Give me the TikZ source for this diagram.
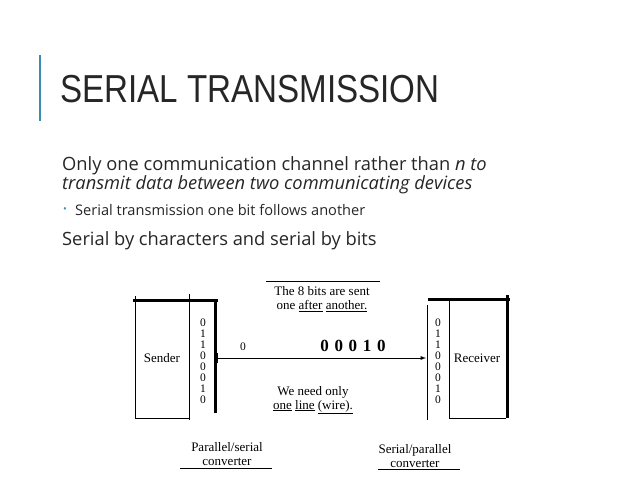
\documentclass[tikz,border=0pt]{standalone}
\usepackage{fontspec}
\setmainfont{Open Sans}
\newfontfamily\titlefont{Liberation Sans}
\newfontfamily\serif{Liberation Serif}
\definecolor{txt}{HTML}{262626}
\definecolor{bar}{HTML}{3C8DB4}
\begin{document}
\begin{tikzpicture}[x=1pt,y=-1pt,
  thin/.style={line width=0.9pt},
  thick/.style={line width=3pt},
  lbl/.style={font=\serif\fontsize{13}{14}\selectfont,inner sep=0pt,align=center},
  bits/.style={font=\serif\fontsize{11.5}{11}\selectfont,inner sep=0pt,align=center}]
\useasboundingbox[fill=white] (0,0) rectangle (638,478);
\fill[bar] (39,55) rectangle (41,121);
\node[anchor=west,inner sep=0pt,text=txt,font=\titlefont\fontsize{39}{40}\selectfont,xscale=0.85] (title) at (60,89) {SERIAL TRANSMISSION};
\node[anchor=north west,inner sep=0pt,text=txt,align=left,font=\fontsize{18.3}{19}\selectfont] (p1) at (62,156) {Only one communication channel rather than \textit{n to}\\\textit{transmit data between two communicating devices}};
\node[anchor=west,inner sep=0pt,text=bar,font=\fontsize{10}{10}\selectfont] (b1) at (63,210) {\textbullet};
\node[anchor=west,inner sep=0pt,text=txt,font=\fontsize{14.6}{15}\selectfont] (p2) at (75,210) {Serial transmission one bit follows another};
\node[anchor=west,inner sep=0pt,text=txt,font=\fontsize{18.3}{19}\selectfont] (p3) at (62,241) {Serial by characters and serial by bits};
% sender
\draw[thin] (135,296) -- (135,418) -- (189,418);
\draw[thin] (189,294) -- (189,420);
\draw[thick] (133,301) -- (218,301);
\draw[thick] (215,301) -- (215,413);
\node[bits] (sb) at (203,361) {0\\1\\1\\0\\0\\0\\1\\0};
\node[lbl] (sender) at (162,358) {Sender};
% receiver
\draw[thin] (427,305) -- (427,420);
\draw[thin] (449,300) -- (449,418) -- (506,418);
\draw[thick] (428,300) -- (510,300);
\draw[thick] (507,295) -- (507,418);
\node[bits] (rb) at (438,361) {0\\1\\1\\0\\0\\0\\1\\0};
\node[lbl] (receiver) at (477,358) {Receiver};
% line
\coordinate (s) at (217,358);
\coordinate (e) at (426,358);
\draw[line width=2.5pt] (217,353) -- (217,363);
\draw[thin,-latex] (s) -- (e);
\node[bits] (z) at (243,347) {0};
\node[bits,font=\serif\bfseries\fontsize{17}{17}\selectfont] (word) at (353,346) {0\,\,0\,\,0\,\,1\,\,0};
\draw[thin] (266,281) -- (380,281);
\node[lbl] (t1) at (322,299) {The 8 bits are sent\\one \underline{after} \underline{another.}};
\node[lbl] (t2) at (313,400) {We need only\\\underline{one} \underline{line} \underline{(wire).}};
\node[lbl] (c1) at (227,454) {Parallel/serial\\converter};
\draw[thin] (180,468) -- (272,468);
\node[lbl] (c2) at (415,456) {Serial/parallel\\converter};
\draw[thin] (378,469) -- (460,469);
\end{tikzpicture}
\end{document}
